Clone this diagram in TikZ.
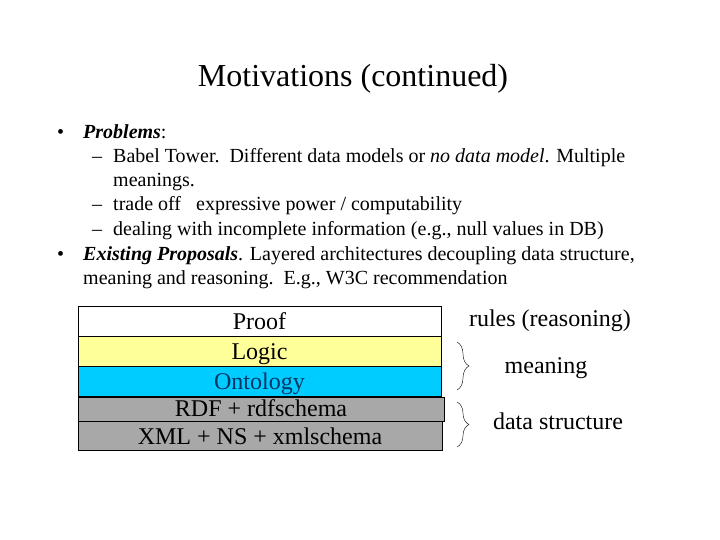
\documentclass[tikz,border=0pt]{standalone}
\usepackage{fontspec}
\setmainfont{Liberation Serif}
\usepackage{tikz}
\usetikzlibrary{positioning}
\usetikzlibrary{decorations.pathreplacing}
\definecolor{logicyellow}{HTML}{FFFF99}
\definecolor{ontocyan}{HTML}{00CCFF}
\definecolor{ontotext}{HTML}{003366}
\definecolor{layergray}{HTML}{A8A8A8}
\tikzstyle{titre}=[anchor=base,font=\fontsize{32}{38}\selectfont,inner sep=0pt]
\tikzstyle{ligne}=[anchor=base west,font=\fontsize{20}{24}\selectfont,inner sep=0pt]
\tikzstyle{layer}=[rectangle,draw,semithick,minimum width=363pt,minimum height=30pt,inner sep=0pt,text height=23pt,text depth=7pt,font=\fontsize{24}{28}\selectfont]
\tikzstyle{etiquette}=[font=\fontsize{24}{28}\selectfont,inner sep=0pt]
\tikzstyle{accolade}=[decorate,decoration={brace,amplitude=12pt,aspect=0.5},thin]

\begin{document}
\begin{tikzpicture}[x=1pt,y=-1pt]
\useasboundingbox (0,0) rectangle (720,540);
\node[titre] (titre) at (353,87) {Motivations (continued)};
%Textedelaliste
\node[ligne] (p1) at (57,139) {\textbullet};
\node[ligne] (p1t) at (83,139) {\textbf{\textit{Problems}}:};
\node[ligne] (d1) at (92,163) {--};
\node[ligne] (d1t) at (113,163) {Babel Tower.\ \ Different data models or \textit{no data model}. Multiple};
\node[ligne] (d1u) at (113,187) {meanings.};
\node[ligne] (d2) at (92,211) {--};
\node[ligne] (d2t) at (113,211) {trade off\ \ \ expressive power / computability};
\node[ligne] (d3) at (92,236) {--};
\node[ligne] (d3t) at (113,236) {dealing with incomplete information (e.g., null values in DB)};
\node[ligne] (p2) at (57,260) {\textbullet};
\node[ligne] (p2t) at (83,260) {\textbf{\textit{Existing Proposals}}. Layered architectures decoupling data structure,};
\node[ligne] (p2u) at (83,284) {meaning and reasoning.\ \ E.g., W3C recommendation};
%Couches
\node[layer,fill=white] (proof) at (259.5,321) {Proof};
\node[layer,fill=logicyellow] (logic) at (259.5,351) {Logic};
\node[layer,fill=ontocyan,text=ontotext] (onto) at (259.5,381) {Ontology};
\node[layer,fill=layergray,minimum width=364pt,minimum height=29pt,text height=23pt,text depth=6pt] (xml) at (260,435.5) {XML + NS + xmlschema};
\node[layer,fill=layergray,minimum width=366pt,minimum height=24pt,text height=19.5pt,text depth=4.5pt] (rdf) at (261,409) {RDF + rdfschema};
%Accolades
\coordinate (m1) at (457,342);
\coordinate (m2) at (457,390);
\coordinate (s1) at (457,402);
\coordinate (s2) at (457,447);
\draw[accolade] (m1) -- (m2);
\draw[accolade] (s1) -- (s2);
\node[etiquette] (rules) at (550,321) {rules (reasoning)};
\node[etiquette] (meaning) at (546,368) {meaning};
\node[etiquette] (data) at (558,421) {data structure};
\end{tikzpicture}
\end{document}
